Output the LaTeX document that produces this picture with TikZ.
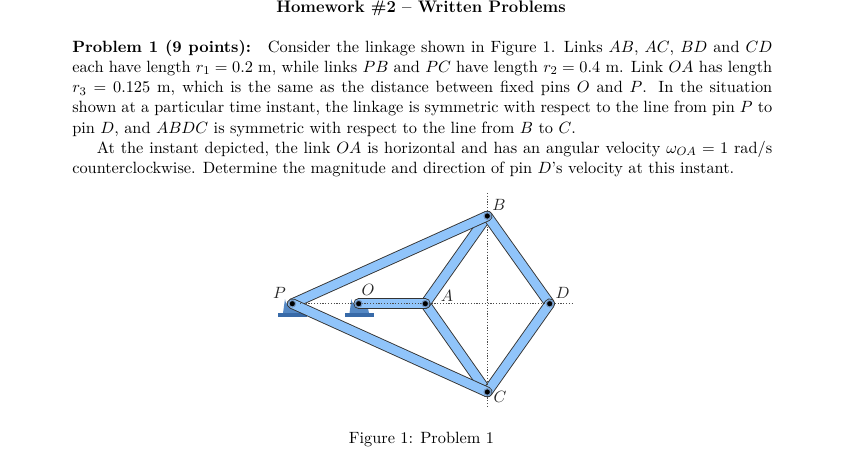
\documentclass[tikz,border=0pt]{standalone}
\usetikzlibrary{backgrounds}
\definecolor{linkblue}{RGB}{144,196,250}
\definecolor{mountblue}{RGB}{84,136,196}
\definecolor{baseblue}{RGB}{56,106,168}
\tikzset{
	,pagetext/.style = {scale=1.49, inner sep=0pt, font=\fontsize{10.95}{13.6}\selectfont}
	,mylabel/.style = {scale=1.49, inner sep=0pt, font=\fontsize{10.95}{13.6}\selectfont, text=black!85}
	,mypin/.style = {circle, fill=black, draw=baseblue!70, line width=1.1pt, inner sep=0pt, minimum size=6.6pt}
	,mylink/.style = {line width=0.9pt, draw=black!80, double=linkblue, double distance=8.8pt, line cap=round}
	,axisline/.style = {dash pattern=on 1.2pt off 1.6pt, line width=0.9pt, black!70}
	,mymount/.style = {fill=mountblue, draw=none}
	,mybase/.style = {fill=baseblue, draw=none}
}
\begin{document}
\begin{tikzpicture}[x=1pt, y=-1pt]
	\useasboundingbox (0,0) rectangle (863,456);
	% page text
	\node[pagetext, anchor=center] (title) at (421,8.8) {\fontsize{11.2}{13.6}\selectfont\bfseries Homework \#2 -- Written Problems};
	\node[pagetext, anchor=north west, text width=469.8pt, align=justify] (body) at (72,39.5) {%
		\textbf{Problem 1 (9 points):} \ \,Consider the linkage shown in Figure 1. Links \(AB\), \(AC\), \(BD\) and \(CD\) each have length \(r_1 = 0.2\) m, while links \(PB\) and \(PC\) have length \(r_2 = 0.4\) m. Link \(OA\) has length \(r_3 = 0.125\) m, which is the same as the distance between fixed pins \(O\) and \(P\). In the situation shown at a particular time instant, the linkage is symmetric with respect to the line from pin \(P\) to pin \(D\), and \(ABDC\) is symmetric with respect to the line from \(B\) to \(C\).\par
		\hspace*{1.5em}At the instant depicted, the link \(OA\) is horizontal and has an angular velocity \(\omega_{OA} = 1\) rad/s counterclockwise. Determine the magnitude and direction of pin \(D\)'s velocity at this instant.};
	\node[pagetext] (caption) at (421.5,439.5) {Figure 1: Problem 1};
	% pins
	\node[mypin] at (292.3,303.7) (p) {};
	\node[mypin] at (358.7,303.7) (o) {};
	\node[mypin] at (425.3,303.7) (a) {};
	\node[mypin] at (487.3,216.0) (b) {};
	\node[mypin] at (487.3,392.0) (c) {};
	\node[mypin] at (549.7,303.7) (d) {};
	\coordinate (linestart) at (300,303.7);
	\coordinate (lineend) at (572,303.7);
	\coordinate (linetop) at (487.3,193);
	\coordinate (linebottom) at (487.3,407);
	% pin names
	\node[mylabel] at (279.5,292.5) (lp) {\(P\)};
	\node[mylabel] at (368,290) (lo) {\(O\)};
	\node[mylabel] at (447,295.5) (la) {\(A\)};
	\node[mylabel] at (499,205) (lb) {\(B\)};
	\node[mylabel] at (500,396.5) (lc) {\(C\)};
	\node[mylabel] at (562.5,292.5) (ld) {\(D\)};
	\begin{scope}[on background layer]
		% fixed mounts
		\fill[mymount] (283,313) -- (285,299) arc (180:0:7.3) -- (303,313) -- cycle;
		\fill[mymount] (349.5,313) -- (351.5,299) arc (180:0:7.2) -- (369,313) -- cycle;
		\fill[mybase] (278,313) rectangle (306.5,316.5);
		\fill[mybase] (345,313) rectangle (374,316.5);
		% links
		\draw[mylink] (a.center) -- (c.center);
		\draw[mylink] (a.center) -- (b.center);
		\draw[mylink] (b.center) -- (d.center);
		\draw[mylink] (c.center) -- (d.center);
		\draw[mylink] (p.center) -- (b.center);
		\draw[mylink] (p.center) -- (c.center);
		\draw[mylink] (o.center) -- (a.center);
		% symmetry lines
		\draw[axisline] (linestart) -- (lineend);
		\draw[axisline] (linetop) -- (linebottom);
	\end{scope}
\end{tikzpicture}
\end{document}
